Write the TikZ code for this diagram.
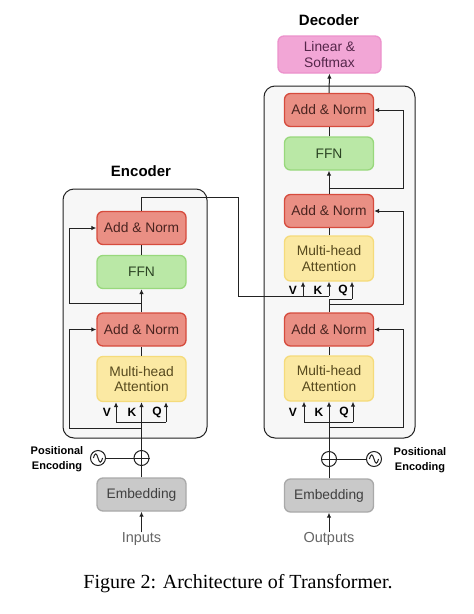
\documentclass[tikz,border=0pt]{standalone}
\usepackage{fontspec}
\setmainfont{Liberation Sans}
\newfontfamily\capfont{Liberation Serif}
\usetikzlibrary{arrows.meta,calc}
\definecolor{anFill}{HTML}{EA8F84}
\definecolor{anDraw}{HTML}{D64B3D}
\definecolor{anText}{HTML}{4A2420}
\definecolor{ffFill}{HTML}{BAE8A6}
\definecolor{ffDraw}{HTML}{98D87C}
\definecolor{ffText}{HTML}{2C4424}
\definecolor{mhFill}{HTML}{FBE9A3}
\definecolor{mhDraw}{HTML}{F5DB7B}
\definecolor{mhText}{HTML}{574A1E}
\definecolor{lsFill}{HTML}{F2A6D6}
\definecolor{lsDraw}{HTML}{EC92CC}
\definecolor{lsText}{HTML}{55264A}
\definecolor{emFill}{HTML}{C9C9C9}
\definecolor{emDraw}{HTML}{A9A9A9}
\definecolor{emText}{HTML}{404040}
\definecolor{bgFill}{HTML}{F7F7F7}
\definecolor{lineC}{HTML}{222222}
\definecolor{ioText}{HTML}{666666}
\tikzset{
  blk/.style={rounded corners=6pt, line width=1.3pt, minimum width=89pt, inner sep=0pt, align=center, font=\fontsize{13.8}{15.5}\selectfont},
  anbox/.style={blk, fill=anFill, draw=anDraw, text=anText, minimum height=33pt},
  ffbox/.style={blk, fill=ffFill, draw=ffDraw, text=ffText, minimum height=33pt},
  mhbox/.style={blk, fill=mhFill, draw=mhDraw, text=mhText, minimum height=45pt},
  lsbox/.style={blk, fill=lsFill, draw=lsDraw, text=lsText, minimum height=37pt, minimum width=103pt},
  embox/.style={blk, fill=emFill, draw=emDraw, text=emText, minimum height=33pt},
  frame/.style={rounded corners=11pt, draw=lineC, line width=1pt, fill=bgFill},
  ln/.style={draw=lineC, line width=1pt},
  arr/.style={ln, -{Latex[length=5pt,width=4.5pt]}},
  lbl/.style={font=\bfseries\fontsize{12}{13}\selectfont, inner sep=0pt},
  posl/.style={font=\bfseries\fontsize{11}{14.5}\selectfont, align=center, inner sep=0pt},
  ttl/.style={font=\bfseries\fontsize{15}{17}\selectfont, inner sep=0pt},
  io/.style={font=\fontsize{14.5}{16}\selectfont, text=ioText, inner sep=0pt},
  circ/.style={circle, draw=lineC, line width=1pt, minimum size=15pt, inner sep=0pt}
}
\begin{document}
\begin{tikzpicture}[x=1pt,y=-1pt]
\useasboundingbox (0,0) rectangle (474,614);
\fill[white] (0,0) rectangle (474,614);
% frames
\draw[frame] (63,189) rectangle (207,438);
\draw[frame] (264,86) rectangle (415,438);
% titles
\node[ttl] (encT) at (141,171) {Encoder};
\node[ttl] (decT) at (329,20) {Decoder};
% encoder nodes
\node[anbox] (eAN2) at (141.5,228) {Add \& Norm};
\node[ffbox] (eFF) at (141.5,272) {FFN};
\node[anbox] (eAN1) at (141.5,329.5) {Add \& Norm};
\node[mhbox] (eMH) at (141.5,379) {Multi-head\\Attention};
\node[embox] (eEm) at (141.5,494.5) {Embedding};
\node[circ] (ePl) at (141.5,458) {};
\node[circ] (eSn) at (98,458) {};
\node[posl] (ePos) at (57,459) {Positional\\Encoding};
\node[io] (eIn) at (141.5,539) {Inputs};
% decoder nodes
\node[lsbox] (dLS) at (329.5,54.5) {Linear \&\\Softmax};
\node[anbox] (dAN3) at (329,110) {Add \& Norm};
\node[ffbox] (dFF) at (329,153.5) {FFN};
\node[anbox] (dAN2) at (329,211) {Add \& Norm};
\node[mhbox] (dMH2) at (329,258.5) {Multi-head\\Attention};
\node[anbox] (dAN1) at (329,329.5) {Add \& Norm};
\node[mhbox] (dMH1) at (329,378.5) {Multi-head\\Attention};
\node[embox] (dEm) at (329,495.5) {Embedding};
\node[circ] (dPl) at (329,459) {};
\node[circ] (dSn) at (374,459) {};
\node[posl] (dPos) at (420,460) {Positional\\Encoding};
\node[io] (dOut) at (329,539) {Outputs};
% symbols
\foreach \c in {ePl,dPl}{
  \draw[ln] (\c.north) -- (\c.south) (\c.west) -- (\c.east);
}
\foreach \c in {eSn,dSn}{
  \draw[ln] ($(\c.center)+(-4.6,0)$) .. controls +(1.5,-5.5) and +(-1.5,-5.5) .. (\c.center) .. controls +(1.5,5.5) and +(-1.5,5.5) .. ($(\c.center)+(4.6,0)$);
}
% VKQ labels
\node[lbl] (eV) at (107,412) {V};
\node[lbl] (eK) at (132,412) {K};
\node[lbl] (eQ) at (157,412) {Q};
\node[lbl] (dV2) at (293,290) {V};
\node[lbl] (dK2) at (318,290) {K};
\node[lbl] (dQ2) at (343,290) {Q};
\node[lbl] (dV1) at (293,412) {V};
\node[lbl] (dK1) at (319,412) {K};
\node[lbl] (dQ1) at (344,412) {Q};
% encoder connections
\draw[arr] (eIn.north) -- (eEm.south);
\draw[ln] (eEm.north) -- (ePl.south);
\draw[ln] (eSn.east) -- (ePl.west);
\draw[arr] (ePl.north) -- (eMH.south);
\coordinate (eVa) at (116,422);
\coordinate (eQa) at (166,422);
\draw[ln] (eVa) -- (eQa);
\draw[arr] (eVa) -- (eVa |- eMH.south);
\draw[arr] (eQa) -- (eQa |- eMH.south);
\coordinate (eR1) at (141.5,428);
\coordinate (eL1) at (69,428);
\draw[arr] (eR1) -- (eL1) |- (eAN1.west);
\draw[ln] (eMH.north) -- (eAN1.south);
\draw[arr] (eAN1.north) -- (eFF.south);
\coordinate (eR2) at (141.5,303);
\coordinate (eL2) at (69,303);
\draw[arr] (eR2) -- (eL2) |- (eAN2.west);
\draw[ln] (eFF.north) -- (eAN2.south);
% encoder to decoder
\coordinate (c1) at (141.5,197);
\coordinate (c2) at (238,197);
\coordinate (c3) at (238,296);
\coordinate (dKa2) at (329,296);
\coordinate (dVa2) at (303,296);
\draw[ln] (eAN2.north) -- (c1) -- (c2) -- (c3) -- (dKa2);
\draw[arr] (dKa2) -- (dKa2 |- dMH2.south);
\draw[arr] (dVa2) -- (dVa2 |- dMH2.south);
% decoder connections
\draw[arr] (dOut.north) -- (dEm.south);
\draw[ln] (dEm.north) -- (dPl.south);
\draw[ln] (dSn.west) -- (dPl.east);
\draw[arr] (dPl.north) -- (dMH1.south);
\coordinate (dVa1) at (304,422);
\coordinate (dQa1) at (353,422);
\draw[ln] (dVa1) -- (dQa1);
\draw[arr] (dVa1) -- (dVa1 |- dMH1.south);
\draw[arr] (dQa1) -- (dQa1 |- dMH1.south);
\coordinate (dR1) at (329,427);
\coordinate (dS1) at (403,427);
\draw[arr] (dR1) -- (dS1) |- (dAN1.east);
\draw[ln] (dMH1.north) -- (dAN1.south);
\coordinate (dQb) at (329,299);
\coordinate (dQa2) at (352,299);
\draw[ln] (dAN1.north) -- (dQb) -- (dQa2);
\draw[arr] (dQa2) -- (dQa2 |- dMH2.south);
\coordinate (dR2) at (329,304);
\coordinate (dS2) at (403,304);
\draw[arr] (dR2) -- (dS2) |- (dAN2.east);
\draw[ln] (dMH2.north) -- (dAN2.south);
\draw[arr] (dAN2.north) -- (dFF.south);
\coordinate (dR3) at (329,188);
\coordinate (dS3) at (403,188);
\draw[arr] (dR3) -- (dS3) |- (dAN3.east);
\draw[ln] (dFF.north) -- (dAN3.south);
\draw[arr] (dAN3.north) -- (dLS.south);
% caption
\node[font=\capfont\fontsize{20}{22}\selectfont, inner sep=0pt] (cap) at (238,584) {Figure 2: Architecture of Transformer.};
\end{tikzpicture}
\end{document}
